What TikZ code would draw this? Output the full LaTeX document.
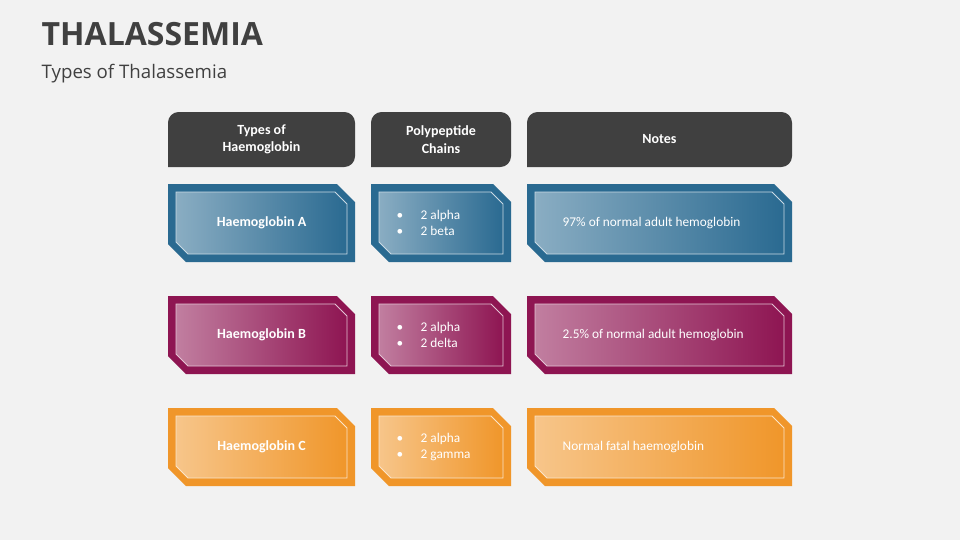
\documentclass[tikz,border=0pt]{standalone}
\usepackage{fontspec}
\setmainfont{Carlito}
\newfontfamily\titlefont{Open Sans}
\definecolor{bg}{HTML}{F2F2F2}
\definecolor{hdr}{HTML}{404040}
\definecolor{cA}{HTML}{2A6A91}
\definecolor{cB}{HTML}{8E1552}
\definecolor{cC}{HTML}{F0962A}
\tikzset{celltext/.style={text=white,font=\bfseries\fontsize{10.5}{13}\selectfont,align=center},
 notetext/.style={text=white,font=\fontsize{10}{12}\selectfont,align=left}}
\newcommand{\cellbox}[5]{% x1 y1 x2 y2 color
 \fill[#5] (#1,#2) -- (#3-18,#2) -- (#3,#2+18) -- (#3,#4) -- (#1+18,#4) -- (#1,#4-18) -- cycle;
 \shade[left color=#5!55!white,right color=#5,draw=white!75!#5,line width=0.6pt]
  (#1+8,#2+8) -- (#3-20,#2+8) -- (#3-8,#2+20) -- (#3-8,#4-8) -- (#1+20,#4-8) -- (#1+8,#4-20) -- cycle;}
\newcommand{\hdrbox}[4]{%
 \fill[hdr,rounded corners=8] (#1,#4) -- (#1,#2) -- (#3,#2) -- (#3,#4) [sharp corners] -- cycle;}
\begin{document}
\begin{tikzpicture}[x=0.75pt,y=-0.75pt]
\fill[bg] (0,0) rectangle (960,540);
\node[anchor=west,font=\titlefont\bfseries\fontsize{24}{28}\selectfont,text=hdr] (title) at (37,34) {THALASSEMIA};
\node[anchor=west,font=\titlefont\fontsize{14}{17}\selectfont,text=hdr] (sub) at (37,74) {Types of Thalassemia};
\hdrbox{168}{112}{355}{167}
\hdrbox{371}{112}{511}{167}
\hdrbox{527}{112}{792}{167}
\node[celltext] (h1) at (261.5,139.5) {Types of\\Haemoglobin};
\node[celltext] (h2) at (441,139.5) {Polypeptide\\Chains};
\node[celltext] (h3) at (659.5,139.5) {Notes};
\foreach \y/\c/\l/\b/\n [count=\i] in {184/cA/A/beta/97\% of normal adult hemoglobin,296/cB/B/delta/2.5\% of normal adult hemoglobin,408/cC/C/gamma/Normal fatal haemoglobin}{
 \cellbox{168}{\y}{355}{\y+78}{\c}
 \cellbox{371}{\y}{511}{\y+78}{\c}
 \cellbox{527}{\y}{792}{\y+78}{\c}
 \node[celltext] (t\i) at (261.5,\y+39) {Haemoglobin \l};
 \node[notetext,anchor=west] (p\i) at (392,\y+39) {\textbullet\hspace{1.3em}2 alpha\\\textbullet\hspace{1.3em}2 \b};
 \node[notetext,anchor=west] (n\i) at (558,\y+39) {\n};
}
\end{tikzpicture}
\end{document}
